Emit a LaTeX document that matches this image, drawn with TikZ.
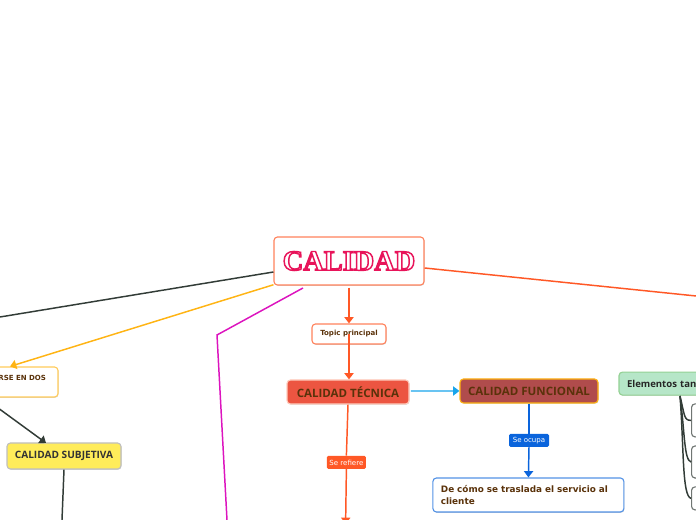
\documentclass[tikz,border=0pt]{standalone}
\usepackage{fontspec}
\setmainfont{DejaVu Sans}
\newfontfamily\headfont{Open Sans}
\newfontfamily\titlefont{Liberation Serif}
\definecolor{linkred}{RGB}{255, 88, 38}
\definecolor{linkgold}{RGB}{255, 180, 20}
\definecolor{linkpink}{RGB}{220, 20, 190}
\definecolor{linkdark}{RGB}{50, 60, 55}
\definecolor{linksky}{RGB}{25, 165, 235}
\definecolor{linkblue}{RGB}{10, 100, 220}
\definecolor{textbrown}{RGB}{90, 50, 10}
\definecolor{titlered}{RGB}{232, 20, 90}
\definecolor{tecnicafill}{RGB}{236, 85, 65}
\definecolor{funcionalfill}{RGB}{176, 76, 76}
\definecolor{subjetivafill}{RGB}{255, 236, 90}
\definecolor{elementosfill}{RGB}{182, 230, 200}
\usetikzlibrary{arrows.meta, shadows}
\newcommand{\hollowtext}[1]{\special{pdf:code 1 Tr 1.05 w}#1\special{pdf:code 0 Tr 0.4 w}}
\tikzset{
  softshadow/.style={drop shadow={shadow xshift=0.4pt, shadow yshift=-0.6pt, opacity=0.3}},
  topicbox/.style={draw, rounded corners=2.5pt, line width=0.8pt, softshadow, inner sep=0pt, align=center},
  linkword/.style={rounded corners=1pt, inner sep=0pt, minimum height=0.325cm, text=white, font=\fontsize{5}{6}\selectfont},
  linkline/.style={line width=1.05pt, -{Triangle[length=4.5pt, width=6.5pt]}},
  plainline/.style={line width=1.05pt}
}
\begin{document}
\begin{tikzpicture}
  \useasboundingbox (0, 0) rectangle (17.4, 13);
  \clip (0, 0) rectangle (17.4, 13);

  % Central topic and the one below it
  \node[topicbox, draw=linkred!75, fill=white, minimum width=3.75cm, minimum height=1.2cm, text=titlered, font=\titlefont\bfseries\fontsize{20.2}{21}\selectfont] (calidad) at (8.725, 6.475) {\hollowtext{CALIDAD}};
  \node[topicbox, draw=linkred!75, fill=white, minimum width=1.85cm, minimum height=0.5cm, text=textbrown, font=\bfseries\fontsize{5}{6}\selectfont] (topic) at (8.725, 4.65) {Topic principal};

  % Main branches
  \node[topicbox, draw=linkred!30, fill=tecnicafill, minimum width=3.05cm, minimum height=0.6cm, text=textbrown, font=\headfont\bfseries\fontsize{8.2}{9}\selectfont] (tecnica) at (8.7, 3.2) {CALIDAD TÉCNICA};
  \node[topicbox, draw=linkgold, fill=funcionalfill, minimum width=3.45cm, minimum height=0.6cm, text=textbrown, font=\headfont\bfseries\fontsize{8.2}{9}\selectfont] (funcional) at (13.225, 3.225) {CALIDAD FUNCIONAL};
  \node[topicbox, draw=linkblue!70, fill=white, minimum width=4.775cm, minimum height=0.85cm, text width=4.375cm, align=left, text=textbrown, font=\bfseries\fontsize{6.3}{8.2}\selectfont] (como) at (13.21, 0.625) {De cómo se traslada el servicio al cliente};

  % Left side, cut by the page edge
  \node[topicbox, draw=linkgold!70, fill=white, minimum width=2.4cm, minimum height=0.75cm, text width=1.8cm, align=right, text=textbrown, font=\bfseries\fontsize{5}{6}\selectfont] (dos) at (0.25, 3.45) {RSE EN DOS\\ ~};
  \node[topicbox, draw=gray!50, fill=subjetivafill, minimum width=2.85cm, minimum height=0.65cm, text=black!80, font=\headfont\bfseries\fontsize{7.2}{8}\selectfont] (subjetiva) at (1.6, 1.6) {CALIDAD SUBJETIVA};

  % Right side, cut by the page edge
  \node[topicbox, draw=green!40!gray!60, fill=elementosfill, minimum width=2.6cm, minimum height=0.575cm, text width=2.2cm, align=left, text=black!85, font=\headfont\bfseries\fontsize{6.8}{8}\selectfont] (elementos) at (16.775, 3.41) {Elementos tan};
  \node[topicbox, draw=linkdark!70, fill=white, anchor=west, minimum width=1cm, minimum height=0.825cm] (kidone) at (17.275, 2.49) {};
  \node[topicbox, draw=linkdark!70, fill=white, anchor=west, minimum width=1cm, minimum height=0.8cm] (kidtwo) at (17.275, 1.45) {};
  \node[topicbox, draw=linkdark!70, fill=white, anchor=west, minimum width=1cm, minimum height=0.575cm] (kidthree) at (17.275, 0.54) {};

  % Link words
  \node[linkword, fill=linkred, minimum width=0.975cm] (refiere) at (8.66, 1.44) {Se refiere};
  \node[linkword, fill=linkblue, minimum width=1cm] (ocupa) at (13.225, 1.99) {Se ocupa};

  % Free ends of the connectors
  \coordinate (leftend) at (0, 5.075);
  \coordinate (rightend) at (17.4, 5.6);
  \coordinate (bendpink) at (5.425, 4.625);
  \coordinate (pinkend) at (5.675, 0);
  \coordinate (subjend) at (1.55, 0);
  \coordinate (tecend) at (8.64, -0.1);
  \coordinate (dosout) at (-0.425, 3.075);
  \coordinate (subjin) at (1.15, 1.925);
  \coordinate (elemout) at (17.0, 3.1);

  % Connectors
  \draw[plainline, linkdark] (calidad.west |- 0, 6.2) -- (leftend);
  \draw[linkline, linkgold] (calidad.south west) ++(0, 0.02) -- (dos.north);
  \draw[plainline, linkpink] (7.575, 5.8) coordinate (pinkstart) -- (bendpink) -- (pinkend);
  \draw[plainline, linkred] (calidad.east |- 0, 6.3) -- (rightend);
  \draw[linkline, linkred] (calidad.south) ++(0, -0.05) -- (topic.north);
  \draw[linkline, linkred] (topic.center) -- (tecnica.north -| topic.center);
  \draw[linkline, linksky] (tecnica.east) ++(0.03, 0.025) -- (funcional.west);
  \draw[plainline, linkred] (tecnica.south) -- (refiere.north);
  \draw[linkline, linkred] (refiere.south) -- (tecend);
  \draw[plainline, linkblue] (funcional.south) -- (ocupa.north);
  \draw[linkline, linkblue] (ocupa.south) -- (como.north);
  \draw[linkline, linkdark] (dosout) -- (subjin);
  \draw[plainline, linkdark] (subjetiva.south) -- (subjend);
  \draw[plainline, linkdark] (elemout) .. controls (17.12, 2.6) and (17.1, 2.49) .. (kidone.west);
  \draw[plainline, linkdark] (elemout) .. controls (17.12, 2.2) and (17.1, 1.5) .. (kidtwo.west);
  \draw[plainline, linkdark] (elemout) .. controls (17.1, 1.8) and (17.05, 0.6) .. (kidthree.west);
\end{tikzpicture}
\end{document}
